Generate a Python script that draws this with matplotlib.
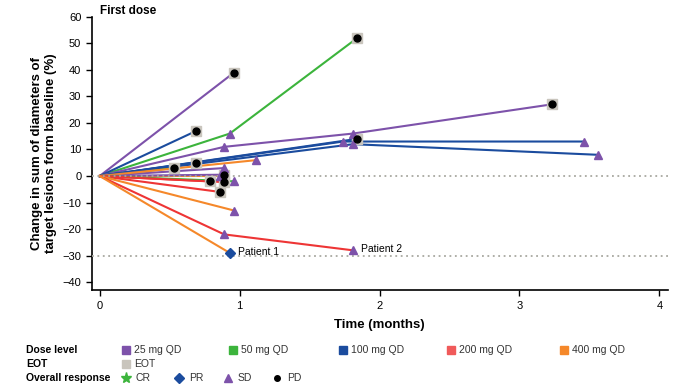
import matplotlib.pyplot as plt

plt.rcParams['font.family'] = ['Liberation Sans', 'DejaVu Sans']

# dose levels and colours
dose_names = ['25 mg QD', '50 mg QD', '100 mg QD', '200 mg QD', '400 mg QD']
dose_colors = ['#7D52AA', '#3CB43C', '#1B4C9E', '#EE3535', '#F5882A']
legend_dose_colors = ['#7D52AA', '#3CB43C', '#1B4C9E', '#F05A5A', '#F5882A']

# one entry per patient: dose index, visit times (months), change (%), response, end of treatment
pt_dose = [0, 1, 2, 0, 2, 2, 2, 1, 2, 0, 4, 4, 0, 3, 3, 1, 3, 4, 3, 4]
pt_time = [
    [0, 0.96], [0, 0.93, 1.84], [0, 0.69], [0, 0.89, 1.81, 3.23],
    [0, 1.74, 3.46], [0, 1.81, 3.56], [0, 1.84], [0, 0.53], [0, 0.69], [0, 0.89],
    [0, 1.12], [0, 0.86], [0, 0.89], [0, 0.79], [0, 0.86], [0, 0.96],
    [0, 0.89], [0, 0.96], [0, 0.89, 1.81], [0, 0.93],
]
pt_change = [
    [0, 39], [0, 16, 52], [0, 17], [0, 11, 16, 27],
    [0, 13, 13], [0, 12, 8], [0, 14], [0, 3], [0, 5], [0, 3],
    [0, 6], [0, 0], [0, 0.5], [0, -2], [0, -6], [0, -2],
    [0, -2.3], [0, -13], [0, -22, -28], [0, -29],
]
pt_resp = [
    [None, 'PD'], [None, 'SD', 'PD'], [None, 'PD'], [None, 'SD', 'SD', 'PD'],
    [None, 'SD', 'SD'], [None, 'SD', 'SD'], [None, 'PD'], [None, 'PD'], [None, 'PD'], [None, 'SD'],
    [None, 'SD'], [None, 'SD'], [None, 'PD'], [None, 'PD'], [None, 'PD'], [None, 'SD'],
    [None, 'PD'], [None, 'SD'], [None, 'SD', 'SD'], [None, 'PR'],
]
pt_eot = [True, True, True, True, False, False, True, True, True, False,
          False, False, True, True, True, False, True, False, False, False]
pt_note = {19: 'Patient 1', 18: 'Patient 2'}

resp_style = {
    'CR': dict(marker='*', color='#3CB43C', ms=9),
    'PR': dict(marker='D', color='#1B4C9E', ms=5),
    'SD': dict(marker='^', color='#7D52AA', ms=5.5),
    'PD': dict(marker='o', color='black', ms=5),
}
eot_color = '#C9C5BD'

fig = plt.figure(figsize=(7, 3.91), dpi=100)
ax = fig.add_axes([0.131, 0.258, 0.823, 0.699])

for i in range(len(pt_dose)):
    ax.plot(pt_time[i], pt_change[i], color=dose_colors[pt_dose[i]], lw=1.5, zorder=2)

ax.axhline(0, color='#A8A8A0', ls=(0, (1, 2)), lw=1.3, zorder=3)
ax.axhline(-30, color='#A8A8A0', ls=(0, (1, 2)), lw=1.3, zorder=3)

for i in range(len(pt_dose)):
    if pt_eot[i]:
        ax.plot(pt_time[i][-1], pt_change[i][-1], marker='s', ms=7.5, color=eot_color,
                ls='none', zorder=4)
    for t, v, r in zip(pt_time[i], pt_change[i], pt_resp[i]):
        if r is None:
            continue
        st = resp_style[r]
        ax.plot(t, v, marker=st['marker'], ms=st['ms'], color=st['color'], ls='none', zorder=5)
    if i in pt_note:
        ax.text(pt_time[i][-1] + 0.06, pt_change[i][-1] + 0.5, pt_note[i], fontsize=7.5,
                va='center', ha='left')

ax.set_xlim(-0.057, 4.06)
ax.set_ylim(-43, 60)
ax.set_xticks([0, 1, 2, 3, 4])
ax.set_yticks(range(-40, 61, 10))
ax.set_yticklabels([str(v).replace('-', '\u2212') for v in range(-40, 61, 10)])
ax.tick_params(labelsize=8, length=4, width=1)
for s in ['top', 'right']:
    ax.spines[s].set_visible(False)
for s in ['left', 'bottom']:
    ax.spines[s].set_linewidth(1.2)
ax.set_xlabel('Time (months)', fontsize=9.5, fontweight='bold', labelpad=6)
ax.set_ylabel('Change in sum of diameters of\ntarget lesions form baseline (%)',
              fontsize=9.5, fontweight='bold', labelpad=4)
ax.text(0.0, 60, 'First dose', fontsize=8.5, fontweight='bold', va='bottom', ha='left')

# legend block below the plot, laid out in pixel coordinates
lg = fig.add_axes([0, 0, 1, 1])
lg.set_xlim(0, 700)
lg.set_ylim(391, 0)
lg.axis('off')

row_y = [350, 364, 378]
row_names = ['Dose level', 'EOT', 'Overall response']
for y, name in zip(row_y, row_names):
    lg.text(26, y, name, fontsize=7.5, fontweight='bold', va='center', ha='left')

dose_x = [126, 233, 343, 451, 564]
for x, name, c in zip(dose_x, dose_names, legend_dose_colors):
    lg.plot(x, row_y[0], marker='s', ms=6, color=c, ls='none')
    lg.text(x + 8, row_y[0], name, fontsize=7.5, va='center', ha='left', color='#333333')

lg.plot(126, row_y[1], marker='s', ms=6, color=eot_color, ls='none')
lg.text(134, row_y[1], 'EOT', fontsize=7.5, va='center', ha='left', color='#333333')

resp_x = [126, 179, 228, 277]
for x, r in zip(resp_x, ['CR', 'PR', 'SD', 'PD']):
    st = resp_style[r]
    ms = {'CR': 8, 'PR': 5, 'SD': 5.5, 'PD': 4}[r]
    lg.plot(x, row_y[2], marker=st['marker'], ms=ms, color=st['color'], ls='none')
    lg.text(x + 10, row_y[2], r, fontsize=7.5, va='center', ha='left', color='#333333')

fig.savefig('out.png', dpi=100)
